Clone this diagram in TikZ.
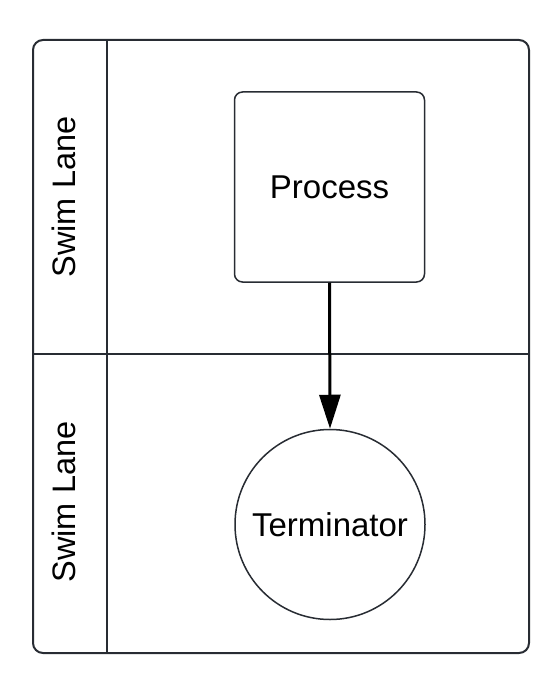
\documentclass[tikz,border=0pt]{standalone}
\usepackage{fontspec}
\setmainfont{Liberation Sans}
\usetikzlibrary{arrows.meta}
\definecolor{lanec}{HTML}{282C33}
\begin{document}
\begin{tikzpicture}[x=1pt,y=-1pt,
  lane/.style={draw=lanec,line width=2pt},
  proc/.style={draw=lanec,line width=1.5pt,rounded corners=8pt,minimum width=190pt,minimum height=190pt,inner sep=0pt,font=\fontsize{33}{39}\selectfont},
  term/.style={draw=lanec,line width=1.5pt,circle,minimum size=190pt,inner sep=0pt,font=\fontsize{33}{39}\selectfont},
  lanelabel/.style={rotate=90,font=\fontsize{32.5}{38}\selectfont,inner sep=0pt},
  flow/.style={line width=3pt,-{Triangle[length=34pt,width=21pt]}}]
\useasboundingbox (0,0) rectangle (557,692);
\draw[lane,rounded corners=10pt] (33,40) rectangle (529,653);
\coordinate (hdtop) at (107,40);
\coordinate (hdbot) at (107,653);
\coordinate (divl) at (33,354);
\coordinate (divr) at (529,354);
\draw[lane] (hdtop) -- (hdbot);
\draw[lane] (divl) -- (divr);
\node[lanelabel] (l1) at (63.5,197) {Swim Lane};
\node[lanelabel] (l2) at (63.5,502) {Swim Lane};
\node[proc] (p) at (329.5,187) {Process};
\node[term] (t) at (330,524.5) {Terminator};
\draw[flow] (p.south) -- (t.north);
\end{tikzpicture}
\end{document}
